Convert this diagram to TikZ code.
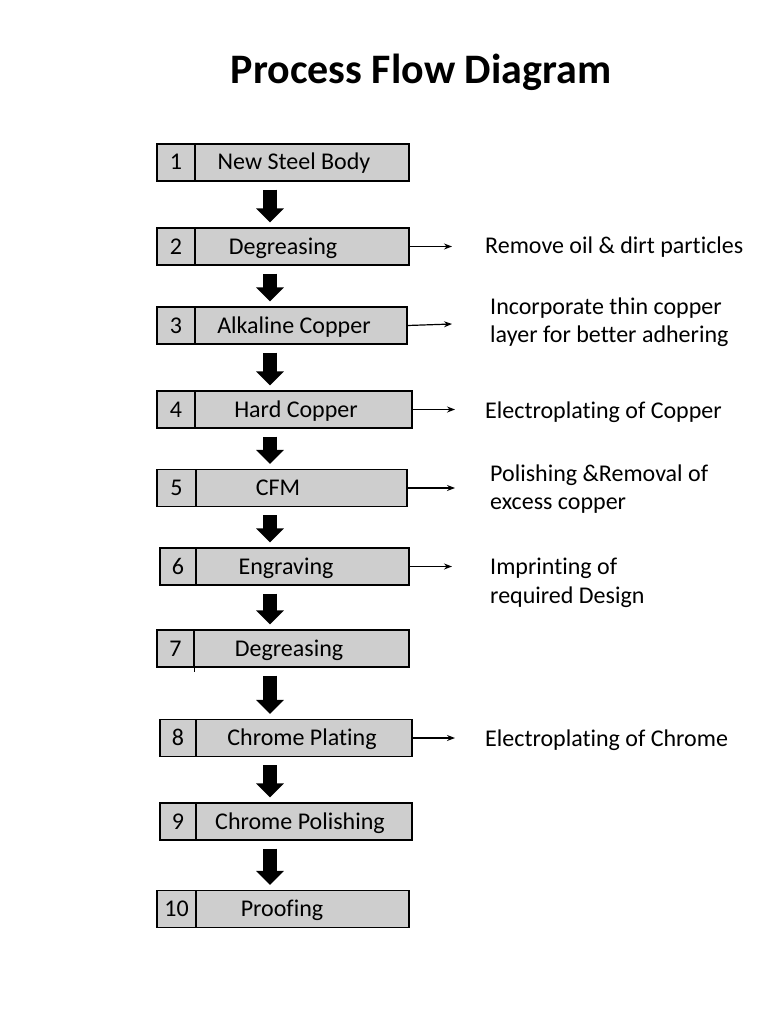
\documentclass[tikz,border=0pt]{standalone}
\usepackage{fontspec}
\setmainfont{Carlito}[Ligatures={NoCommon}]
\usetikzlibrary{arrows.meta}
\definecolor{boxgray}{HTML}{CECECE}
\newcommand\ax{270}

\begin{document}
\begin{tikzpicture}[x=1pt, y=-1pt,
    stage/.style={rectangle, draw=black, line width=1.3pt, fill=boxgray, minimum height=37pt, inner sep=0pt},
    numcell/.style={rectangle, draw=black, line width=1.3pt, minimum height=37pt, inner sep=0pt, text height=16pt, text depth=1pt, anchor=west},
    lbl/.style={inner sep=0pt, text height=16pt, text depth=1pt},
    note/.style={anchor=west, align=left, inner sep=0pt},
    down/.style={line width=14pt, -{Triangle[width=27pt, length=14pt]}, shorten <=8pt, shorten >=5pt},
    side/.style={line width=1.2pt, -{Stealth[length=8pt, width=6pt]}},
    font=\fontsize{24}{28.5}\selectfont]
    \useasboundingbox (0,0) rectangle (768,1024);

    \node at (421,72) [font=\fontsize{42}{50}\selectfont\bfseries] (title) {Process Flow Diagram};

    %stages
    \node at (283,162.5) [stage, minimum width=252] (b1) {};
    \node at (b1.west) [numcell, minimum width=38] (n1) {1};
    \node at (294,162.5) [lbl] (t1) {New Steel Body};

    \node at (283,246.5) [stage, minimum width=252] (b2) {};
    \node at (b2.west) [numcell, minimum width=38] (n2) {2};
    \node at (283,246.5) [lbl] (t2) {Degreasing};

    \node at (282,325.5) [stage, minimum width=250] (b3) {};
    \node at (b3.west) [numcell, minimum width=38] (n3) {3};
    \node at (294,325.5) [lbl] (t3) {Alkaline Copper};

    \node at (284.5,409.5) [stage, minimum width=255] (b4) {};
    \node at (b4.west) [numcell, minimum width=38] (n4) {4};
    \node at (296,409.5) [lbl] (t4) {Hard Copper};

    \node at (282,488) [stage, minimum width=250] (b5) {};
    \node at (b5.west) [numcell, minimum width=39] (n5) {5};
    \node at (278,488) [lbl] (t5) {CFM};

    \node at (284.5,566.5) [stage, minimum width=249] (b6) {};
    \node at (b6.west) [numcell, minimum width=36] (n6) {6};
    \node at (286,566.5) [lbl] (t6) {Engraving};

    \node at (283,648.5) [stage, minimum width=252] (b7) {};
    \node at (b7.west) [numcell, minimum width=37] (n7) {7};
    \node at (289,648.5) [lbl] (t7) {Degreasing};
    \draw [line width=1.3pt] (n7.south east) -- ++(0,4);

    \node at (286,738) [stage, minimum width=252] (b8) {};
    \node at (b8.west) [numcell, minimum width=36] (n8) {8};
    \node at (302,738) [lbl] (t8) {Chrome Plating};

    \node at (286,821.5) [stage, minimum width=252] (b9) {};
    \node at (b9.west) [numcell, minimum width=36] (n9) {9};
    \node at (300,821.5) [lbl] (t9) {Chrome Polishing};

    \node at (283,909) [stage, minimum width=252] (b10) {};
    \node at (b10.west) [numcell, minimum width=39] (n10) {10};
    \node at (282,909) [lbl] (t10) {Proofing};

    %flow arrows
    \coordinate (ax) at (\ax,0);
    \draw [down] (b1.south -| ax) -- (b2.north -| ax);
    \draw [down] (b2.south -| ax) -- (b3.north -| ax);
    \draw [down] (b3.south -| ax) -- (b4.north -| ax);
    \draw [down] (b4.south -| ax) -- (b5.north -| ax);
    \draw [down] (b5.south -| ax) -- (b6.north -| ax);
    \draw [down] (b6.south -| ax) -- (b7.north -| ax);
    \draw [down] (b7.south -| ax) -- (b8.north -| ax);
    \draw [down] (b8.south -| ax) -- (b9.north -| ax);
    \draw [down] (b9.south -| ax) -- (b10.north -| ax);

    %notes on the right
    \coordinate (a2) at (452,246.5);
    \coordinate (a3) at (452,324);
    \coordinate (a4) at (455,409.5);
    \coordinate (a5) at (455,488);
    \coordinate (a6) at (452,566.5);
    \coordinate (a8) at (455,738);
    \draw [side] (b2.east) -- (a2);
    \draw [side] (b3.east) -- (a3);
    \draw [side] (b4.east) -- (a4);
    \draw [side] (b5.east) -- (a5);
    \draw [side] (b6.east) -- (a6);
    \draw [side] (b8.east) -- (a8);

    \node at (485,247) [note] (r2) {Remove oil \& dirt particles};
    \node at (490,322) [note] (r3) {Incorporate thin copper\\layer for better adhering};
    \node at (485,412) [note] (r4) {Electroplating of Copper};
    \node at (490,489) [note] (r5) {Polishing \&Removal of\\excess copper};
    \node at (490,583) [note] (r6) {Imprinting of\\required Design};
    \node at (485,740) [note] (r8) {Electroplating of Chrome};
\end{tikzpicture}
\end{document}
